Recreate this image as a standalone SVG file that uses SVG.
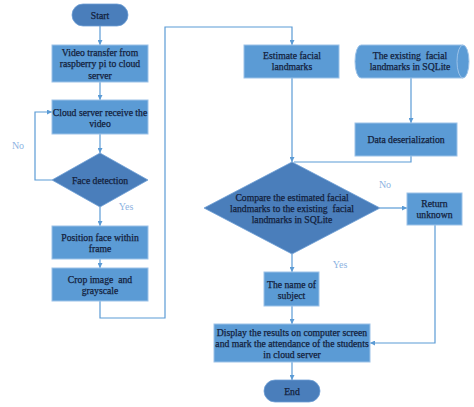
<svg xmlns="http://www.w3.org/2000/svg" width="474" height="407" viewBox="0 0 474 407">
<defs>
<marker id="arr" viewBox="0 0 8 8" refX="8" refY="4" markerWidth="5" markerHeight="5" orient="auto" markerUnits="userSpaceOnUse">
<path d="M0,0 L8,4 L0,8 z" fill="#5b9bd5"/>
</marker>
<style>
.box{fill:#5b9bd5;stroke:#9cc2e8;stroke-width:1}
.dia{fill:#4a7ebb;stroke:#6f9fd6;stroke-width:0.8}
.term{fill:#4a7ebb;stroke:#6f9fd6;stroke-width:0.8}
.t{font-family:"Liberation Serif","Times New Roman",serif;font-size:9.7px;fill:#13213c;stroke:#13213c;stroke-width:0.25;text-anchor:middle;white-space:pre}
.lab{font-family:"Liberation Serif","Times New Roman",serif;font-size:10px;fill:#8db3e2;text-anchor:middle}
.ln{fill:none;stroke:#5b9bd5;stroke-width:1.2}
</style>
</defs>
<rect width="474" height="407" fill="#ffffff"/>
<g id="connectors">
<path class="ln" d="M100,26 V45" marker-end="url(#arr)"/>
<path class="ln" d="M100,82 V100" marker-end="url(#arr)"/>
<path class="ln" d="M100,134 V153" marker-end="url(#arr)"/>
<path class="ln" d="M52,180 H35 V112 H52" marker-end="url(#arr)"/>
<path class="ln" d="M100,207 V226" marker-end="url(#arr)"/>
<path class="ln" d="M100,259 V268" marker-end="url(#arr)"/>
<path class="ln" d="M100,301 V318 H165 V27 H292 V45" marker-end="url(#arr)"/>
<path class="ln" d="M292,78 V162" marker-end="url(#arr)"/>
<path class="ln" d="M411,78 V123" marker-end="url(#arr)"/>
<path class="ln" d="M411,156 V162 H294"/>
<path class="ln" d="M380,208 H407" marker-end="url(#arr)"/>
<path class="ln" d="M292,254 V272" marker-end="url(#arr)"/>
<path class="ln" d="M292,306 V324" marker-end="url(#arr)"/>
<path class="ln" d="M435,225 V343 H370" marker-end="url(#arr)"/>
<path class="ln" d="M292,362 V380" marker-end="url(#arr)"/>
<text class="lab" x="18" y="149">No</text>
<text class="lab" x="126" y="210">Yes</text>
<text class="lab" x="385" y="188">No</text>
<text class="lab" x="340" y="268">Yes</text>
</g>
<g id="start">
<rect class="term" x="72" y="4" width="56" height="22" rx="11"/>
<text class="t" x="100" y="18.5">Start</text>
</g>
<g id="video-transfer">
<rect class="box" x="52" y="45" width="96" height="37"/>
<text class="t" x="100" y="55.5">Video transfer from</text>
<text class="t" x="100" y="67">raspberry pi to cloud</text>
<text class="t" x="100" y="78.5">server</text>
</g>
<g id="cloud-receive">
<rect class="box" x="52" y="100" width="96" height="34"/>
<text class="t" x="100" y="115.5">Cloud server receive the</text>
<text class="t" x="100" y="126.5">video</text>
</g>
<g id="face-detection">
<polygon class="dia" points="100,153 148,180 100,207 52,180"/>
<text class="t" x="100" y="183.5">Face detection</text>
</g>
<g id="position-face">
<rect class="box" x="52" y="226" width="96" height="33"/>
<text class="t" x="100" y="240.5">Position face within</text>
<text class="t" x="100" y="251.5">frame</text>
</g>
<g id="crop-image">
<rect class="box" x="52" y="268" width="96" height="33"/>
<text class="t" x="100" y="282.5" xml:space="preserve">Crop image  and</text>
<text class="t" x="100" y="294">grayscale</text>
</g>
<g id="estimate-landmarks">
<rect class="box" x="244" y="45" width="95" height="33"/>
<text class="t" x="292" y="58.5">Estimate facial</text>
<text class="t" x="292" y="69.5">landmarks</text>
</g>
<g id="sqlite">
<path class="box" d="M361,45 H463 A6,16.5 0 0 1 463,78 H361 A6,16.5 0 0 1 361,45 Z"/>
<path d="M463,45 A6,16.5 0 0 0 463,78" fill="none" stroke="#9cc2e8" stroke-width="1"/>
<text class="t" x="410" y="58.5" xml:space="preserve">The existing  facial</text>
<text class="t" x="410" y="69.5">landmarks in SQLite</text>
</g>
<g id="deserialization">
<rect class="box" x="355" y="123" width="102" height="33"/>
<text class="t" x="406" y="142.5">Data deserialization</text>
</g>
<g id="compare">
<polygon class="dia" points="292,162 380,208 292,254 204,208"/>
<text class="t" x="292" y="200.5">Compare the estimated facial</text>
<text class="t" x="292" y="211.5" xml:space="preserve">landmarks to the existing  facial</text>
<text class="t" x="292" y="222.5">landmarks in SQLite</text>
</g>
<g id="return-unknown">
<rect class="box" x="407" y="193" width="55" height="32"/>
<text class="t" x="434.5" y="206.5">Return</text>
<text class="t" x="434.5" y="217.5">unknown</text>
</g>
<g id="name-subject">
<rect class="box" x="264" y="272" width="55" height="34"/>
<text class="t" x="291.5" y="287.5">The name of</text>
<text class="t" x="291.5" y="299">subject</text>
</g>
<g id="display">
<rect class="box" x="214" y="324" width="156" height="38"/>
<text class="t" x="292" y="335.5">Display the results on computer screen</text>
<text class="t" x="292" y="346.5">and mark the attendance of the students</text>
<text class="t" x="292" y="357.5">in cloud server</text>
</g>
<g id="end">
<rect class="term" x="264" y="380" width="56" height="22" rx="11"/>
<text class="t" x="292" y="394.5">End</text>
</g>
</svg>
